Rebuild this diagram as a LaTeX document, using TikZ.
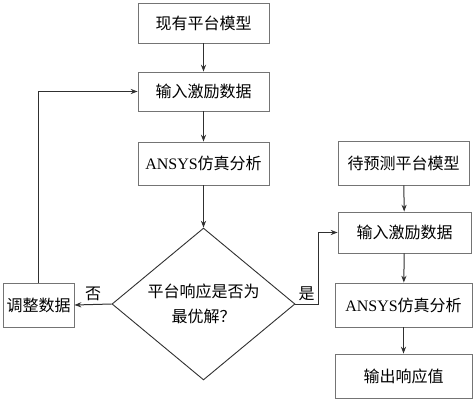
\documentclass[tikz,border=0pt]{standalone}
\usepackage{fontspec}
\setmainfont{Liberation Serif}
\newfontfamily\cjk{Noto Sans CJK SC}
\usepackage{tikz}
\usetikzlibrary{arrows.meta,shapes.geometric}
\definecolor{boxGray}{HTML}{747474}
\definecolor{lineDark}{HTML}{303030}
\tikzset{
  >={Stealth[length=2.4mm,width=1.8mm]},
  every picture/.append style={font=\fontsize{16}{20}\selectfont},
  stepbox/.style={rectangle,draw=boxGray,fill=white,line width=0.9pt,inner sep=2pt,align=center},
  decision/.style={diamond,draw=lineDark,fill=white,line width=0.9pt,inner sep=0pt,align=center,
    minimum width=183pt,minimum height=128pt,font=\fontsize{16}{25}\selectfont\cjk},
  flowarrow/.style={->,draw=lineDark,line width=1pt},
  flowlabel/.style={font=\fontsize{16}{20}\selectfont\cjk,inner sep=3pt},
}

\begin{document}
\begin{tikzpicture}[x=1pt,y=1pt]
  \useasboundingbox (0,0) rectangle (474,400);

  % left column
  \node[stepbox, minimum width=131pt, minimum height=40pt] (model)  at (203.5,377)   {\cjk 现有平台模型};
  \node[stepbox, minimum width=131pt, minimum height=39pt] (input)  at (203.5,308.5) {\cjk 输入激励数据};
  \node[stepbox, minimum width=131pt, minimum height=43pt] (ansys)  at (203.5,236.5) {ANSYS{\cjk 仿真分析}};
  \node[decision] (optimal) at (203.5,96) {平台响应是否为\\最优解？};
  \node[stepbox, minimum width=71pt, minimum height=44pt] (adjust) at (38.5,95) {\cjk 调整数据};

  % right column
  \node[stepbox, minimum width=131pt, minimum height=44pt] (target) at (403.5,237)   {\cjk 待预测平台模型};
  \node[stepbox, minimum width=133pt, minimum height=41pt] (input2) at (404.5,167.5) {\cjk 输入激励数据};
  \node[stepbox, minimum width=137pt, minimum height=44pt] (ansys2) at (403.5,95)    {ANSYS{\cjk 仿真分析}};
  \node[stepbox, minimum width=137pt, minimum height=44pt] (output) at (403.5,24)    {\cjk 输出响应值};

  \coordinate (turn) at (318,96);

  \draw[flowarrow] (model) -- (input);
  \draw[flowarrow] (input) -- (ansys);
  \draw[flowarrow] (ansys) -- (optimal);
  \draw[flowarrow] (optimal.west) -- node[flowlabel,above]{否} (adjust.east);
  \draw[flowarrow] (adjust.north) |- (input.west);
  \draw[flowarrow] (optimal.east) -- node[flowlabel,above]{是} (turn) |- (input2.west);

  \draw[flowarrow] (target) -- (input2);
  \draw[flowarrow] (input2) -- (ansys2);
  \draw[flowarrow] (ansys2) -- (output);
\end{tikzpicture}
\end{document}
